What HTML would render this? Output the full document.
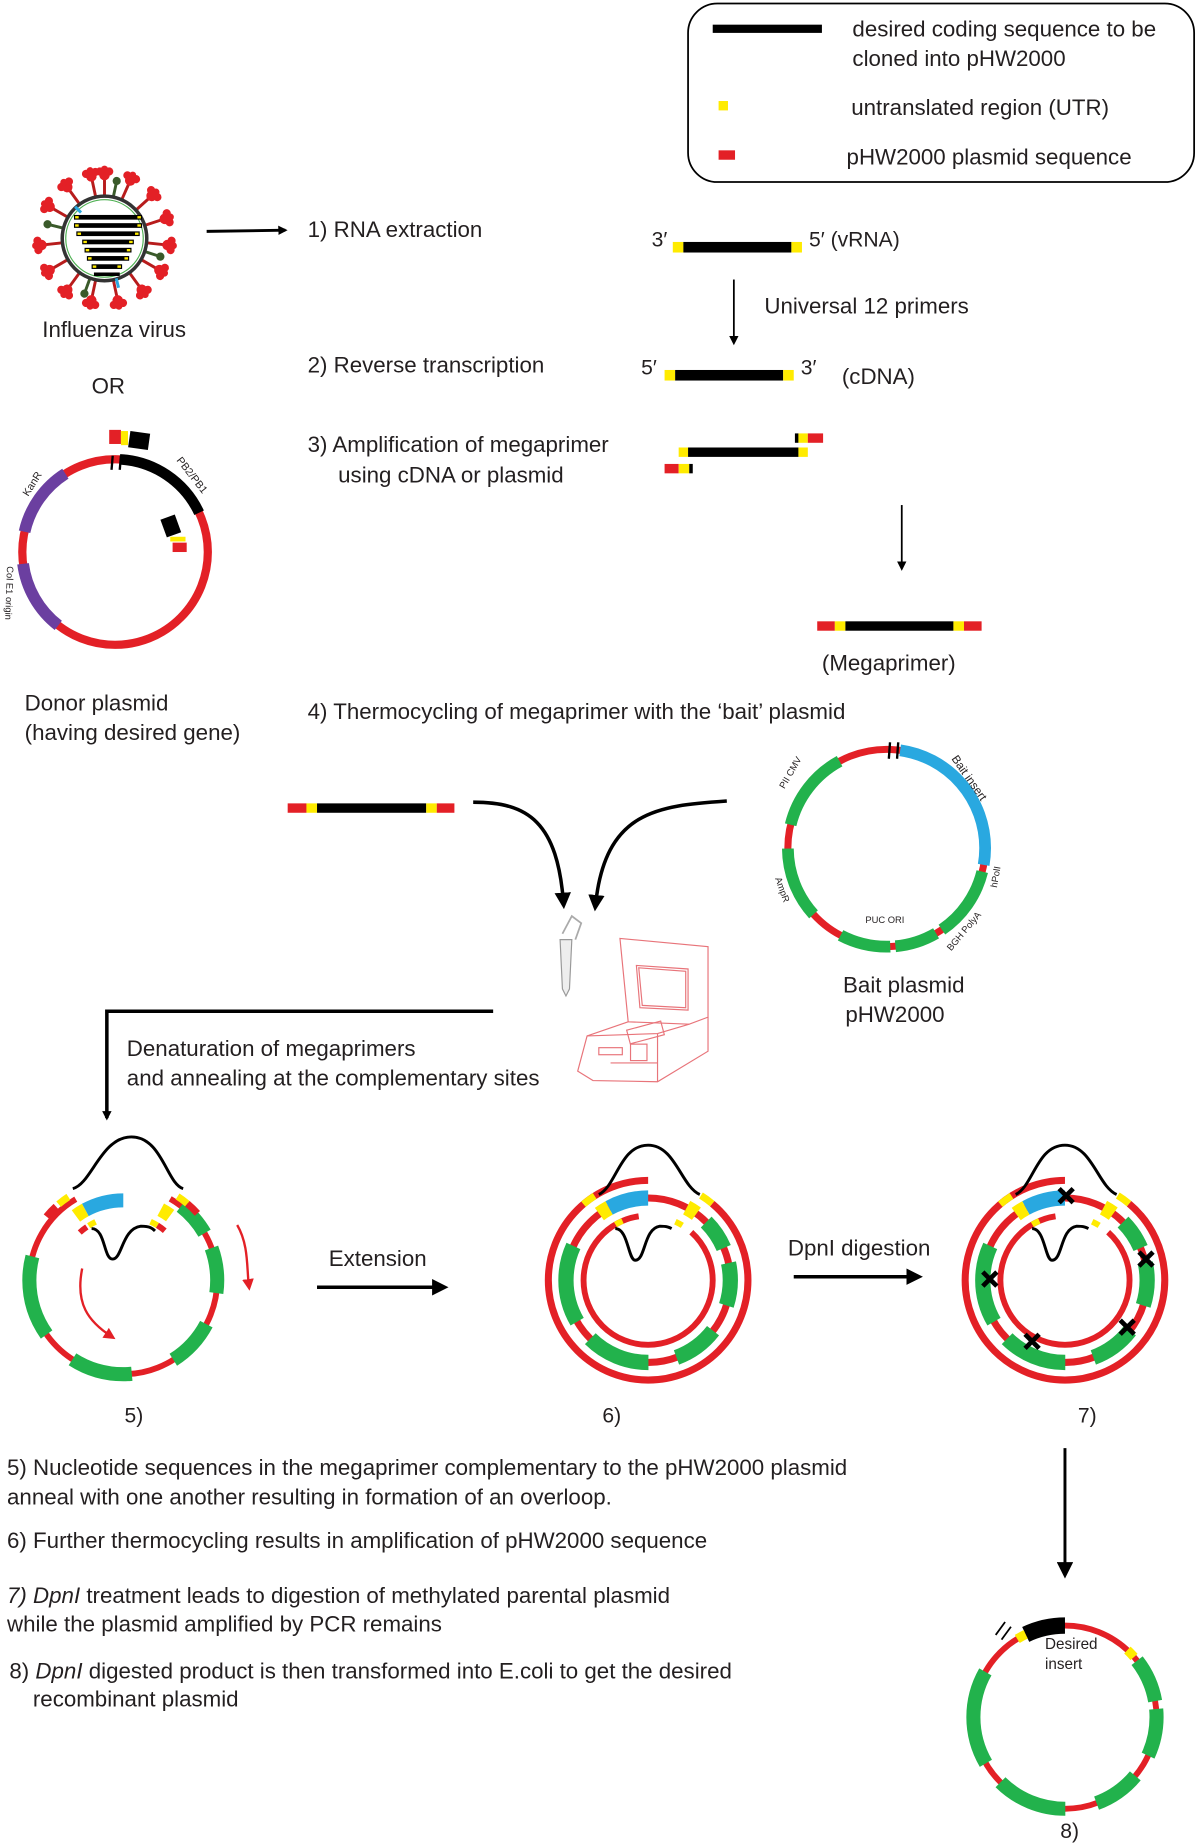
<!DOCTYPE html>
<html><head><meta charset="utf-8"><style>
html,body{margin:0;padding:0;background:#fff}
svg{display:block}
text{font-family:"Liberation Sans",sans-serif;fill:#231f20}
</style></head><body>
<svg width="1200" height="1844" viewBox="0 0 1022 1570" preserveAspectRatio="none" xmlns="http://www.w3.org/2000/svg">
<defs>
<marker id="ah" markerWidth="8" markerHeight="8" refX="6" refY="4" orient="auto" markerUnits="userSpaceOnUse"><path d="M0,0 L8,4 L0,8 z" fill="#000"/></marker>
<marker id="ahb" markerWidth="14" markerHeight="14" refX="10" refY="7" orient="auto" markerUnits="userSpaceOnUse"><path d="M0,0 L14,7 L0,14 z" fill="#000"/></marker>
<marker id="ahr" markerWidth="10" markerHeight="10" refX="6" refY="5" orient="auto" markerUnits="userSpaceOnUse"><path d="M0,0 L10,5 L0,10 z" fill="#e32026"/></marker>
<g id="spk"><line x1="0" y1="-36" x2="0" y2="-50" stroke="#b71c1c" stroke-width="2.5"/><circle cx="0" cy="-54" r="4.5" fill="#e32026"/><circle cx="-4" cy="-57" r="3.5" fill="#e32026"/><circle cx="4" cy="-57" r="3.5" fill="#e32026"/><circle cx="0" cy="-59" r="3" fill="#e32026"/></g>
<g id="spg"><line x1="0" y1="-36" x2="0" y2="-48" stroke="#3a5a2a" stroke-width="2.5"/><circle cx="0" cy="-50" r="3.5" fill="#3a5a2a"/></g>
<g id="bar"><rect x="0" y="0" width="1" height="5" fill="#000"/></g>
</defs>

<!-- legend -->
<rect x="586" y="3" width="431" height="152" rx="25" fill="none" stroke="#000" stroke-width="1.5"/>
<rect x="607" y="21" width="93" height="7" fill="#000"/>
<text x="726" y="31" font-size="19">desired coding sequence to be</text>
<text x="726" y="56" font-size="19">cloned into pHW2000</text>
<rect x="612" y="86" width="8" height="8" fill="#ffeb00"/>
<text x="725" y="98" font-size="19">untranslated region (UTR)</text>
<rect x="612" y="128" width="14" height="8" fill="#e32026"/>
<text x="721" y="140" font-size="19">pHW2000 plasmid sequence</text>

<!-- virus -->
<g transform="translate(89,203)">
<use href="#spk" transform="rotate(0)"/><use href="#spk" transform="rotate(24)"/><use href="#spk" transform="rotate(48)"/><use href="#spk" transform="rotate(72)"/><use href="#spk" transform="rotate(96)"/><use href="#spk" transform="rotate(120)"/><use href="#spk" transform="rotate(144)"/><use href="#spk" transform="rotate(168)"/><use href="#spk" transform="rotate(192)"/><use href="#spk" transform="rotate(216)"/><use href="#spk" transform="rotate(240)"/><use href="#spk" transform="rotate(264)"/><use href="#spk" transform="rotate(300)"/><use href="#spk" transform="rotate(324)"/><use href="#spk" transform="rotate(-12)"/>
<use href="#spg" transform="rotate(12)"/><use href="#spg" transform="rotate(108)"/><use href="#spg" transform="rotate(200)"/><use href="#spg" transform="rotate(284)"/>
<circle r="36" fill="#fff" stroke="#333" stroke-width="3"/><circle r="33" fill="#fff" stroke="#4caf50" stroke-width="1"/>
<line x1="-25" y1="-27" x2="-20" y2="-22" stroke="#29a8e0" stroke-width="2.5"/>
<line x1="10" y1="34" x2="12" y2="42" stroke="#29a8e0" stroke-width="2.5"/>
<g fill="#000">
<rect x="-26" y="-20" width="58" height="4"/><rect x="-26" y="-13" width="58" height="4"/><rect x="-24" y="-6" width="54" height="4"/>
<rect x="-19" y="1" width="44" height="4"/><rect x="-17" y="8" width="40" height="4"/><rect x="-15" y="15" width="36" height="4"/><rect x="-11" y="22" width="26" height="4"/><rect x="-9" y="29" width="22" height="3"/>
</g>
<g fill="#ffeb00">
<rect x="-25" y="-19" width="3" height="2"/><rect x="28" y="-19" width="3" height="2"/><rect x="-25" y="-12" width="3" height="2"/><rect x="28" y="-12" width="3" height="2"/><rect x="-23" y="-5" width="3" height="2"/><rect x="26" y="-5" width="3" height="2"/>
<rect x="-18" y="2" width="3" height="2"/><rect x="21" y="2" width="3" height="2"/><rect x="-16" y="9" width="3" height="2"/><rect x="19" y="9" width="3" height="2"/><rect x="-14" y="16" width="3" height="2"/><rect x="17" y="16" width="3" height="2"/><rect x="-10" y="23" width="3" height="2"/><rect x="11" y="23" width="3" height="2"/>
</g></g>
<text x="36" y="287" font-size="19">Influenza virus</text>
<text x="78" y="335" font-size="19">OR</text>
<line x1="176" y1="197" x2="243" y2="196" stroke="#000" stroke-width="2.5" marker-end="url(#ah)"/>

<!-- donor plasmid -->
<g transform="rotate(-90 98 470)" fill="none" stroke-width="7">
<circle cx="98" cy="470" r="79" stroke="#e32026"/>
<circle cx="98" cy="470" r="79" stroke="#000" stroke-width="9" pathLength="360" stroke-dasharray="62 360" stroke-dashoffset="-3"/>
<circle cx="98" cy="470" r="79" stroke="#6b3fa0" stroke-width="10" pathLength="360" stroke-dasharray="45 360" stroke-dashoffset="-283"/>
<circle cx="98" cy="470" r="79" stroke="#6b3fa0" stroke-width="10" pathLength="360" stroke-dasharray="45 360" stroke-dashoffset="-218"/>
</g>
<line x1="96" y1="388" x2="95" y2="400" stroke="#000" stroke-width="2"/><line x1="103" y1="388" x2="102" y2="400" stroke="#000" stroke-width="2"/>
<rect x="93" y="366" width="10" height="12" fill="#e32026"/><rect x="103" y="367" width="6" height="12" fill="#ffeb00"/><rect x="110" y="368" width="17" height="14" fill="#000" transform="rotate(8 118 375)"/>
<rect x="139" y="440" width="13" height="16" fill="#000" transform="rotate(-20 145 448)"/><rect x="145" y="457" width="13" height="4" fill="#ffeb00"/><rect x="147" y="462" width="12" height="8" fill="#e32026"/>
<text x="0" y="0" font-size="9" transform="translate(150,392) rotate(52)">PB2/PB1</text>
<text x="0" y="0" font-size="9" transform="translate(24,423) rotate(-58)">KanR</text>
<text x="0" y="0" font-size="8" transform="translate(6,482) rotate(92)">Col E1 origin</text>
<text x="21" y="605" font-size="19">Donor plasmid</text>
<text x="21" y="630" font-size="19">(having desired gene)</text>

<!-- steps -->
<text x="262" y="202" font-size="19">1)  RNA extraction</text>
<text x="262" y="317" font-size="19">2)  Reverse transcription</text>
<text x="262" y="385" font-size="19">3)  Amplification of megaprimer</text>
<text x="288" y="411" font-size="19">using cDNA or plasmid</text>
<text x="262" y="612" font-size="19">4)  Thermocycling of megaprimer with the ‘bait’ plasmid</text>

<text x="555" y="210" font-size="18">3′</text>
<rect x="573" y="206" width="9" height="9" fill="#ffeb00"/><rect x="582" y="206" width="92" height="9" fill="#000"/><rect x="674" y="206" width="9" height="9" fill="#ffeb00"/>
<text x="689" y="210" font-size="18">5′  (vRNA)</text>
<line x1="625" y1="238" x2="625" y2="292" stroke="#000" stroke-width="1.5" marker-end="url(#ah)"/>
<text x="651" y="267" font-size="19">Universal 12 primers</text>
<text x="546" y="319" font-size="18">5′</text>
<rect x="566" y="315" width="9" height="9" fill="#ffeb00"/><rect x="575" y="315" width="92" height="9" fill="#000"/><rect x="667" y="315" width="9" height="9" fill="#ffeb00"/>
<text x="682" y="319" font-size="18">3′</text>
<text x="717" y="327" font-size="19">(cDNA)</text>

<rect x="578" y="381" width="8" height="8" fill="#ffeb00"/><rect x="586" y="381" width="94" height="8" fill="#000"/><rect x="680" y="381" width="8" height="8" fill="#ffeb00"/>
<rect x="677" y="369" width="3" height="8" fill="#000"/><rect x="680" y="369" width="8" height="8" fill="#ffeb00"/><rect x="688" y="369" width="13" height="8" fill="#e32026"/>
<rect x="566" y="395" width="12" height="8" fill="#e32026"/><rect x="578" y="395" width="9" height="8" fill="#ffeb00"/><rect x="587" y="395" width="3" height="8" fill="#000"/>
<line x1="768" y1="430" x2="768" y2="484" stroke="#000" stroke-width="1.5" marker-end="url(#ah)"/>
<rect x="696" y="529" width="15" height="8" fill="#e32026"/><rect x="711" y="529" width="9" height="8" fill="#ffeb00"/><rect x="720" y="529" width="92" height="8" fill="#000"/><rect x="812" y="529" width="9" height="8" fill="#ffeb00"/><rect x="821" y="529" width="15" height="8" fill="#e32026"/>
<text x="700" y="571" font-size="19">(Megaprimer)</text>

<!-- megaprimer step 4 -->
<rect x="245" y="684" width="16" height="8" fill="#e32026"/><rect x="261" y="684" width="9" height="8" fill="#ffeb00"/><rect x="270" y="684" width="93" height="8" fill="#000"/><rect x="363" y="684" width="9" height="8" fill="#ffeb00"/><rect x="372" y="684" width="15" height="8" fill="#e32026"/>
<path d="M403,683 C450,683 475,700 480,770" fill="none" stroke="#000" stroke-width="3" marker-end="url(#ahb)"/>
<path d="M619,682 C560,686 515,690 507,772" fill="none" stroke="#000" stroke-width="3" marker-end="url(#ahb)"/>

<!-- tube + thermocycler -->
<path d="M477,800 L487,800 L485,842 L482,848 L479,842 Z" fill="#eee" stroke="#999" stroke-width="1"/>
<path d="M479,795 L487,780 L495,786 L490,800" fill="none" stroke="#aaa" stroke-width="1.5"/>
<g fill="none" stroke="#e8747a" stroke-width="1">
<path d="M528,799 L603,806 L603,866 L587,872 L535,870 Z"/>
<path d="M542,822 L586,825 L586,860 L545,858 Z"/><path d="M544,824 L584,827 L584,858 L547,856 Z"/>
<path d="M535,870 L500,882 L492,912 L505,920 L560,921 L603,895 L603,866"/>
<path d="M500,882 L560,880 L587,872"/><path d="M560,880 L560,921"/>
<path d="M520,905 L560,905"/>
<rect x="535" y="873" width="30" height="12" transform="rotate(-15 550 880)"/>
<rect x="510" y="892" width="20" height="6"/><rect x="537" y="889" width="14" height="14"/>
</g>

<!-- bait plasmid -->
<g transform="rotate(-90 755 722)" fill="none" stroke-width="8">
<circle cx="755" cy="722" r="84" stroke="#e32026" stroke-width="6"/>
<circle cx="755" cy="722" r="84" stroke="#29a8e0" stroke-width="10" pathLength="360" stroke-dasharray="92 360" stroke-dashoffset="-8"/>
<circle cx="755" cy="722" r="84" stroke="#22b24c" stroke-width="10" pathLength="360" stroke-dasharray="42 360" stroke-dashoffset="-104"/>
<circle cx="755" cy="722" r="84" stroke="#22b24c" stroke-width="10" pathLength="360" stroke-dasharray="25 360" stroke-dashoffset="-150"/>
<circle cx="755" cy="722" r="84" stroke="#22b24c" stroke-width="10" pathLength="360" stroke-dasharray="30 360" stroke-dashoffset="-178"/>
<circle cx="755" cy="722" r="84" stroke="#22b24c" stroke-width="10" pathLength="360" stroke-dasharray="42 360" stroke-dashoffset="-228"/>
<circle cx="755" cy="722" r="84" stroke="#22b24c" stroke-width="10" pathLength="360" stroke-dasharray="48 360" stroke-dashoffset="-284"/>
</g>
<line x1="758" y1="632" x2="757" y2="646" stroke="#000" stroke-width="2"/><line x1="765" y1="632" x2="764" y2="646" stroke="#000" stroke-width="2"/>
<text font-size="10" transform="translate(810,646) rotate(55)">Bait insert</text>
<text font-size="8" transform="translate(668,672) rotate(-60)">PII CMV</text>
<text font-size="8" transform="translate(660,748) rotate(70)">AmpR</text>
<text font-size="8" transform="translate(849,756) rotate(-80)">hPolI</text>
<text font-size="8" transform="translate(810,810) rotate(-50)">BGH PolyA</text>
<text x="737" y="786" font-size="8">PUC ORI</text>
<text x="718" y="845" font-size="19">Bait plasmid</text>
<text x="720" y="870" font-size="19">pHW2000</text>

<!-- denaturation line -->
<polyline points="420,861 91,861 91,952" fill="none" stroke="#000" stroke-width="3" marker-end="url(#ah)"/>
<text x="108" y="899" font-size="19">Denaturation of megaprimers</text>
<text x="108" y="924" font-size="19">and annealing at the complementary sites</text>

<!-- circle 5 -->
<g transform="rotate(-90 105 1090)" fill="none">
<circle cx="105" cy="1090" r="80" stroke="#e32026" stroke-width="5" pathLength="360" stroke-dasharray="300 360" stroke-dashoffset="-30"/>
<circle cx="105" cy="1090" r="80" stroke="#22b24c" stroke-width="12" pathLength="360" stroke-dasharray="22 360" stroke-dashoffset="-38"/>
<circle cx="105" cy="1090" r="80" stroke="#22b24c" stroke-width="12" pathLength="360" stroke-dasharray="28 360" stroke-dashoffset="-70"/>
<circle cx="105" cy="1090" r="80" stroke="#22b24c" stroke-width="12" pathLength="360" stroke-dasharray="30 360" stroke-dashoffset="-118"/>
<circle cx="105" cy="1090" r="80" stroke="#22b24c" stroke-width="12" pathLength="360" stroke-dasharray="38 360" stroke-dashoffset="-175"/>
<circle cx="105" cy="1090" r="80" stroke="#22b24c" stroke-width="12" pathLength="360" stroke-dasharray="50 360" stroke-dashoffset="-235"/>
<circle cx="105" cy="1090" r="68" stroke="#29a8e0" stroke-width="12" pathLength="360" stroke-dasharray="56 360" stroke-dashoffset="-332"/>
<circle cx="105" cy="1090" r="68" stroke="#ffeb00" stroke-width="12" pathLength="360" stroke-dasharray="8 360" stroke-dashoffset="-324"/>
<circle cx="105" cy="1090" r="68" stroke="#ffeb00" stroke-width="12" pathLength="360" stroke-dasharray="8 360" stroke-dashoffset="-28"/>
<circle cx="105" cy="1090" r="85" stroke="#ffeb00" stroke-width="6" pathLength="360" stroke-dasharray="7 360" stroke-dashoffset="-320"/>
<circle cx="105" cy="1090" r="85" stroke="#e32026" stroke-width="6" pathLength="360" stroke-dasharray="8 360" stroke-dashoffset="-310"/>
<circle cx="105" cy="1090" r="85" stroke="#ffeb00" stroke-width="6" pathLength="360" stroke-dasharray="7 360" stroke-dashoffset="-33"/>
<circle cx="105" cy="1090" r="85" stroke="#e32026" stroke-width="6" pathLength="360" stroke-dasharray="8 360" stroke-dashoffset="-40"/>
<circle cx="105" cy="1090" r="55" stroke="#ffeb00" stroke-width="5" pathLength="360" stroke-dasharray="7 360" stroke-dashoffset="-328"/>
<circle cx="105" cy="1090" r="55" stroke="#e32026" stroke-width="5" pathLength="360" stroke-dasharray="8 360" stroke-dashoffset="-318"/>
<circle cx="105" cy="1090" r="55" stroke="#ffeb00" stroke-width="5" pathLength="360" stroke-dasharray="7 360" stroke-dashoffset="-25"/>
<circle cx="105" cy="1090" r="55" stroke="#e32026" stroke-width="5" pathLength="360" stroke-dasharray="8 360" stroke-dashoffset="-32"/>
</g>
<path d="M62,1012 C78,1008 86,968 112,968 C138,968 142,1008 156,1012" fill="none" stroke="#000" stroke-width="2.5"/>
<path d="M78,1046 C90,1046 88,1072 96,1072 C104,1072 104,1046 120,1044 C128,1044 130,1046 132,1048" fill="none" stroke="#000" stroke-width="2.5"/>
<path d="M202,1043 C212,1060 210,1080 212,1095" fill="none" stroke="#e32026" stroke-width="2" marker-end="url(#ahr)"/>
<path d="M70,1080 C64,1110 75,1125 95,1138" fill="none" stroke="#e32026" stroke-width="2" marker-end="url(#ahr)"/>
<text x="106" y="1211" font-size="18">5)</text>

<line x1="270" y1="1096" x2="378" y2="1096" stroke="#000" stroke-width="3" marker-end="url(#ahb)"/>
<text x="280" y="1078" font-size="19">Extension</text>
<line x1="676" y1="1087" x2="782" y2="1087" stroke="#000" stroke-width="3" marker-end="url(#ahb)"/>
<text x="671" y="1069" font-size="19">DpnI digestion</text>

<!-- circle 6 and 7 -->
<g id="c6">
<g transform="rotate(-90 552 1090)" fill="none">
<circle cx="552" cy="1090" r="85" stroke="#e32026" stroke-width="6" pathLength="360" stroke-dasharray="326 360" stroke-dashoffset="-40"/>
<circle cx="552" cy="1090" r="85" stroke="#ffeb00" stroke-width="6" pathLength="360" stroke-dasharray="8 360" stroke-dashoffset="-32"/>
<circle cx="552" cy="1090" r="85" stroke="#ffeb00" stroke-width="6" pathLength="360" stroke-dasharray="8 360" stroke-dashoffset="-320"/>
<circle cx="552" cy="1090" r="70" stroke="#e32026" stroke-width="6"/>
<circle cx="552" cy="1090" r="70" stroke="#22b24c" stroke-width="13" pathLength="360" stroke-dasharray="22 360" stroke-dashoffset="-45"/>
<circle cx="552" cy="1090" r="70" stroke="#22b24c" stroke-width="13" pathLength="360" stroke-dasharray="30 360" stroke-dashoffset="-78"/>
<circle cx="552" cy="1090" r="70" stroke="#22b24c" stroke-width="13" pathLength="360" stroke-dasharray="32 360" stroke-dashoffset="-128"/>
<circle cx="552" cy="1090" r="70" stroke="#22b24c" stroke-width="13" pathLength="360" stroke-dasharray="45 360" stroke-dashoffset="-180"/>
<circle cx="552" cy="1090" r="70" stroke="#22b24c" stroke-width="13" pathLength="360" stroke-dasharray="55 360" stroke-dashoffset="-240"/>
<circle cx="552" cy="1090" r="70" stroke="#29a8e0" stroke-width="13" pathLength="360" stroke-dasharray="56 360" stroke-dashoffset="-332"/>
<circle cx="552" cy="1090" r="70" stroke="#ffeb00" stroke-width="13" pathLength="360" stroke-dasharray="8 360" stroke-dashoffset="-324"/>
<circle cx="552" cy="1090" r="70" stroke="#ffeb00" stroke-width="13" pathLength="360" stroke-dasharray="8 360" stroke-dashoffset="-28"/>
<circle cx="552" cy="1090" r="55" stroke="#e32026" stroke-width="5" pathLength="360" stroke-dasharray="310 360" stroke-dashoffset="-42"/>
<circle cx="552" cy="1090" r="55" stroke="#ffeb00" stroke-width="5" pathLength="360" stroke-dasharray="7 360" stroke-dashoffset="-330"/>
<circle cx="552" cy="1090" r="55" stroke="#ffeb00" stroke-width="5" pathLength="360" stroke-dasharray="7 360" stroke-dashoffset="-25"/>
</g>
<path d="M510,1017 C525,1010 528,975 552,975 C575,975 580,1010 596,1017" fill="none" stroke="#000" stroke-width="2.5"/>
<path d="M524,1046 C535,1046 535,1073 541,1073 C550,1073 548,1046 562,1044 C568,1044 570,1045 572,1046" fill="none" stroke="#000" stroke-width="2.5"/>
</g>
<text x="513" y="1211" font-size="18">6)</text>
<use href="#c6" transform="translate(355,0)"/>
<text x="918" y="1211" font-size="18">7)</text>
<g stroke="#000" stroke-width="4">
<path d="M902,1012 L914,1024 M914,1012 L902,1024"/>
<path d="M837,1083 L849,1095 M849,1083 L837,1095"/>
<path d="M970,1066 L982,1078 M982,1066 L970,1078"/>
<path d="M873,1136 L885,1148 M885,1136 L873,1148"/>
<path d="M954,1124 L966,1136 M966,1124 L954,1136"/>
</g>

<!-- arrow to 8 -->
<line x1="907" y1="1233" x2="907" y2="1340" stroke="#000" stroke-width="2.5" marker-end="url(#ahb)"/>

<!-- circle 8 -->
<g transform="rotate(-90 907 1462)" fill="none">
<circle cx="907" cy="1462" r="78" stroke="#e32026" stroke-width="5"/>
<circle cx="907" cy="1462" r="78" stroke="#000" stroke-width="14" pathLength="360" stroke-dasharray="68 360" stroke-dashoffset="-335"/>
<circle cx="907" cy="1462" r="78" stroke="#ffeb00" stroke-width="8" pathLength="360" stroke-dasharray="6 360" stroke-dashoffset="-329"/>
<circle cx="907" cy="1462" r="78" stroke="#ffeb00" stroke-width="8" pathLength="360" stroke-dasharray="6 360" stroke-dashoffset="-43"/>
<circle cx="907" cy="1462" r="78" stroke="#22b24c" stroke-width="12" pathLength="360" stroke-dasharray="28 360" stroke-dashoffset="-52"/>
<circle cx="907" cy="1462" r="78" stroke="#22b24c" stroke-width="12" pathLength="360" stroke-dasharray="30 360" stroke-dashoffset="-85"/>
<circle cx="907" cy="1462" r="78" stroke="#22b24c" stroke-width="12" pathLength="360" stroke-dasharray="30 360" stroke-dashoffset="-130"/>
<circle cx="907" cy="1462" r="78" stroke="#22b24c" stroke-width="12" pathLength="360" stroke-dasharray="45 360" stroke-dashoffset="-180"/>
<circle cx="907" cy="1462" r="78" stroke="#22b24c" stroke-width="12" pathLength="360" stroke-dasharray="60 360" stroke-dashoffset="-240"/>
</g>
<line x1="848" y1="1392" x2="856" y2="1381" stroke="#000" stroke-width="1.5"/><line x1="853" y1="1396" x2="861" y2="1385" stroke="#000" stroke-width="1.5"/>
<text x="890" y="1404" font-size="13">Desired</text>
<text x="890" y="1421" font-size="13">insert</text>
<text x="903" y="1565" font-size="18">8)</text>

<!-- bottom text -->
<text x="6" y="1256" font-size="19">5) Nucleotide sequences in the megaprimer complementary to the pHW2000 plasmid</text>
<text x="6" y="1281" font-size="19">anneal with one another resulting in formation of an overloop.</text>
<text x="6" y="1318" font-size="19">6) Further thermocycling results in amplification of pHW2000 sequence</text>
<text x="6" y="1365" font-size="19"><tspan font-style="italic">7) DpnI</tspan> treatment leads to digestion of methylated parental plasmid</text>
<text x="6" y="1389" font-size="19">while the plasmid amplified by PCR remains</text>
<text x="8" y="1429" font-size="19">8) <tspan font-style="italic">DpnI</tspan> digested product is then transformed into E.coli to get the desired</text>
<text x="28" y="1453" font-size="19">recombinant plasmid</text>
</svg>
</body></html>
